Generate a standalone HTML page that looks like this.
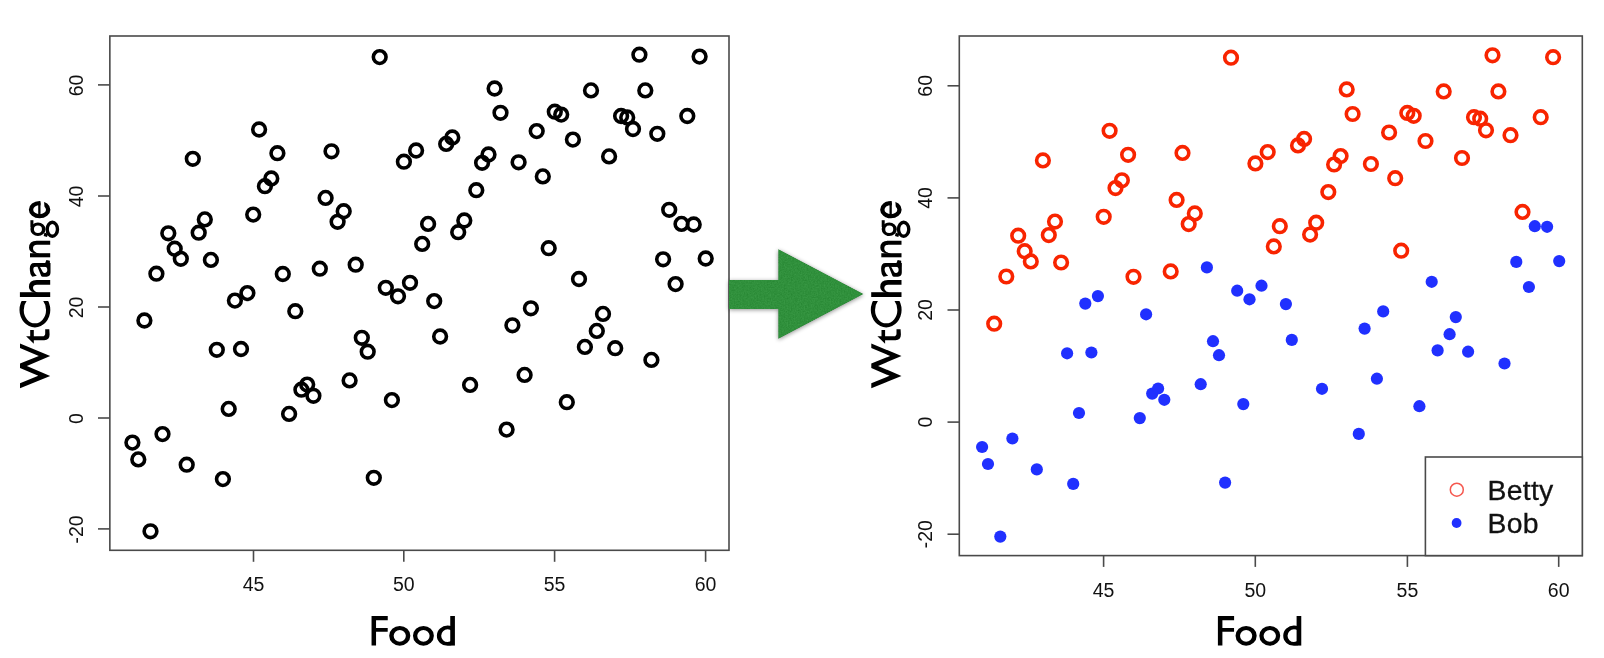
<!DOCTYPE html>
<html><head><meta charset="utf-8"><style>
html,body{margin:0;padding:0;background:#fff;width:1604px;height:658px;overflow:hidden}
svg{display:block;will-change:transform}
.tk{font-family:"Liberation Sans",sans-serif;font-size:19.5px;fill:#111}
.lg{font-family:"Liberation Sans",sans-serif;font-size:28.4px;letter-spacing:0.3px;fill:#111;stroke:#111;stroke-width:0.3px}
.ti{font-family:"Liberation Sans",sans-serif;font-size:41px;fill:#000;stroke:#000;stroke-width:1.1px}
</style></head><body>
<svg width="1604" height="658" viewBox="0 0 1604 658"><defs><filter id="sh" x="-20%" y="-30%" width="140%" height="160%" color-interpolation-filters="sRGB"><feGaussianBlur in="SourceAlpha" stdDeviation="2.2" result="b"/><feOffset in="b" dx="0" dy="1" result="o"/><feComponentTransfer in="o" result="s"><feFuncA type="linear" slope="0.42"/></feComponentTransfer><feTurbulence type="fractalNoise" baseFrequency="0.7" numOctaves="2" seed="4" result="n"/><feColorMatrix in="n" type="matrix" values="1 0 0 0 0  1 0 0 0 0  1 0 0 0 0  0 0 0 0 1" result="ng"/><feComposite in="SourceGraphic" in2="ng" operator="arithmetic" k1="0" k2="1" k3="0.10" k4="-0.05" result="t"/><feComposite in="t" in2="SourceAlpha" operator="in" result="tc"/><feMerge><feMergeNode in="s"/><feMergeNode in="tc"/></feMerge></filter></defs><rect x="109.85" y="36.0" width="619.15" height="514.3" fill="none" stroke="#4a4a4a" stroke-width="1.6"/><line x1="253.5" y1="550.3" x2="253.5" y2="561.8" stroke="#4a4a4a" stroke-width="1.6"/><text x="253.5" y="591" class="tk" text-anchor="middle">45</text><line x1="403.8" y1="550.3" x2="403.8" y2="561.8" stroke="#4a4a4a" stroke-width="1.6"/><text x="403.8" y="591" class="tk" text-anchor="middle">50</text><line x1="554.6" y1="550.3" x2="554.6" y2="561.8" stroke="#4a4a4a" stroke-width="1.6"/><text x="554.6" y="591" class="tk" text-anchor="middle">55</text><line x1="705.6" y1="550.3" x2="705.6" y2="561.8" stroke="#4a4a4a" stroke-width="1.6"/><text x="705.6" y="591" class="tk" text-anchor="middle">60</text><line x1="98.0" y1="84.9" x2="109.85" y2="84.9" stroke="#4a4a4a" stroke-width="1.6"/><text transform="translate(82.6 85.4) rotate(-90)" class="tk" text-anchor="middle">60</text><line x1="98.0" y1="196.0" x2="109.85" y2="196.0" stroke="#4a4a4a" stroke-width="1.6"/><text transform="translate(82.6 196.5) rotate(-90)" class="tk" text-anchor="middle">40</text><line x1="98.0" y1="307.0" x2="109.85" y2="307.0" stroke="#4a4a4a" stroke-width="1.6"/><text transform="translate(82.6 307.5) rotate(-90)" class="tk" text-anchor="middle">20</text><line x1="98.0" y1="418.0" x2="109.85" y2="418.0" stroke="#4a4a4a" stroke-width="1.6"/><text transform="translate(82.6 418.5) rotate(-90)" class="tk" text-anchor="middle">0</text><line x1="98.0" y1="528.9" x2="109.85" y2="528.9" stroke="#4a4a4a" stroke-width="1.6"/><text transform="translate(82.6 529.4) rotate(-90)" class="tk" text-anchor="middle">-20</text><rect x="959.3" y="36.0" width="623.0" height="519.6" fill="none" stroke="#4a4a4a" stroke-width="1.6"/><line x1="1103.6" y1="555.6" x2="1103.6" y2="566.9" stroke="#4a4a4a" stroke-width="1.6"/><text x="1103.6" y="596.5" class="tk" text-anchor="middle">45</text><line x1="1255.3" y1="555.6" x2="1255.3" y2="566.9" stroke="#4a4a4a" stroke-width="1.6"/><text x="1255.3" y="596.5" class="tk" text-anchor="middle">50</text><line x1="1407.4" y1="555.6" x2="1407.4" y2="566.9" stroke="#4a4a4a" stroke-width="1.6"/><text x="1407.4" y="596.5" class="tk" text-anchor="middle">55</text><line x1="1558.7" y1="555.6" x2="1558.7" y2="566.9" stroke="#4a4a4a" stroke-width="1.6"/><text x="1558.7" y="596.5" class="tk" text-anchor="middle">60</text><line x1="947.5" y1="85.8" x2="959.3" y2="85.8" stroke="#4a4a4a" stroke-width="1.6"/><text transform="translate(932.0 85.8) rotate(-90)" class="tk" text-anchor="middle">60</text><line x1="947.5" y1="197.9" x2="959.3" y2="197.9" stroke="#4a4a4a" stroke-width="1.6"/><text transform="translate(932.0 197.9) rotate(-90)" class="tk" text-anchor="middle">40</text><line x1="947.5" y1="310.0" x2="959.3" y2="310.0" stroke="#4a4a4a" stroke-width="1.6"/><text transform="translate(932.0 310.0) rotate(-90)" class="tk" text-anchor="middle">20</text><line x1="947.5" y1="422.1" x2="959.3" y2="422.1" stroke="#4a4a4a" stroke-width="1.6"/><text transform="translate(932.0 422.1) rotate(-90)" class="tk" text-anchor="middle">0</text><line x1="947.5" y1="534.2" x2="959.3" y2="534.2" stroke="#4a4a4a" stroke-width="1.6"/><text transform="translate(932.0 534.2) rotate(-90)" class="tk" text-anchor="middle">-20</text><circle cx="253.2" cy="214.6" r="6.35" fill="none" stroke="#000" stroke-width="3.6"/><circle cx="204.8" cy="219.4" r="6.35" fill="none" stroke="#000" stroke-width="3.6"/><circle cx="168.3" cy="233.3" r="6.35" fill="none" stroke="#000" stroke-width="3.6"/><circle cx="198.7" cy="232.7" r="6.35" fill="none" stroke="#000" stroke-width="3.6"/><circle cx="174.7" cy="248.7" r="6.35" fill="none" stroke="#000" stroke-width="3.6"/><circle cx="180.8" cy="258.8" r="6.35" fill="none" stroke="#000" stroke-width="3.6"/><circle cx="210.9" cy="259.9" r="6.35" fill="none" stroke="#000" stroke-width="3.6"/><circle cx="156.4" cy="273.7" r="6.35" fill="none" stroke="#000" stroke-width="3.6"/><circle cx="282.8" cy="274.0" r="6.35" fill="none" stroke="#000" stroke-width="3.6"/><circle cx="247.4" cy="293.1" r="6.35" fill="none" stroke="#000" stroke-width="3.6"/><circle cx="234.9" cy="300.6" r="6.35" fill="none" stroke="#000" stroke-width="3.6"/><circle cx="295.3" cy="311.2" r="6.35" fill="none" stroke="#000" stroke-width="3.6"/><circle cx="144.4" cy="320.5" r="6.35" fill="none" stroke="#000" stroke-width="3.6"/><circle cx="216.8" cy="349.8" r="6.35" fill="none" stroke="#000" stroke-width="3.6"/><circle cx="241.0" cy="349.0" r="6.35" fill="none" stroke="#000" stroke-width="3.6"/><circle cx="192.8" cy="158.8" r="6.35" fill="none" stroke="#000" stroke-width="3.6"/><circle cx="259.1" cy="129.5" r="6.35" fill="none" stroke="#000" stroke-width="3.6"/><circle cx="277.4" cy="153.2" r="6.35" fill="none" stroke="#000" stroke-width="3.6"/><circle cx="271.3" cy="178.5" r="6.35" fill="none" stroke="#000" stroke-width="3.6"/><circle cx="264.9" cy="186.2" r="6.35" fill="none" stroke="#000" stroke-width="3.6"/><circle cx="228.7" cy="408.9" r="6.35" fill="none" stroke="#000" stroke-width="3.6"/><circle cx="289.1" cy="413.9" r="6.35" fill="none" stroke="#000" stroke-width="3.6"/><circle cx="301.4" cy="389.7" r="6.35" fill="none" stroke="#000" stroke-width="3.6"/><circle cx="307.2" cy="384.6" r="6.35" fill="none" stroke="#000" stroke-width="3.6"/><circle cx="313.4" cy="395.8" r="6.35" fill="none" stroke="#000" stroke-width="3.6"/><circle cx="162.5" cy="434.1" r="6.35" fill="none" stroke="#000" stroke-width="3.6"/><circle cx="132.4" cy="442.6" r="6.35" fill="none" stroke="#000" stroke-width="3.6"/><circle cx="138.3" cy="459.4" r="6.35" fill="none" stroke="#000" stroke-width="3.6"/><circle cx="186.7" cy="464.7" r="6.35" fill="none" stroke="#000" stroke-width="3.6"/><circle cx="222.9" cy="479.1" r="6.35" fill="none" stroke="#000" stroke-width="3.6"/><circle cx="150.5" cy="531.3" r="6.35" fill="none" stroke="#000" stroke-width="3.6"/><circle cx="379.7" cy="57.1" r="6.35" fill="none" stroke="#000" stroke-width="3.6"/><circle cx="494.6" cy="88.5" r="6.35" fill="none" stroke="#000" stroke-width="3.6"/><circle cx="500.5" cy="112.8" r="6.35" fill="none" stroke="#000" stroke-width="3.6"/><circle cx="331.5" cy="151.3" r="6.35" fill="none" stroke="#000" stroke-width="3.6"/><circle cx="416.1" cy="150.5" r="6.35" fill="none" stroke="#000" stroke-width="3.6"/><circle cx="403.9" cy="161.7" r="6.35" fill="none" stroke="#000" stroke-width="3.6"/><circle cx="452.3" cy="137.5" r="6.35" fill="none" stroke="#000" stroke-width="3.6"/><circle cx="446.2" cy="143.9" r="6.35" fill="none" stroke="#000" stroke-width="3.6"/><circle cx="488.5" cy="154.5" r="6.35" fill="none" stroke="#000" stroke-width="3.6"/><circle cx="482.1" cy="162.8" r="6.35" fill="none" stroke="#000" stroke-width="3.6"/><circle cx="518.6" cy="162.3" r="6.35" fill="none" stroke="#000" stroke-width="3.6"/><circle cx="476.3" cy="190.2" r="6.35" fill="none" stroke="#000" stroke-width="3.6"/><circle cx="325.6" cy="197.9" r="6.35" fill="none" stroke="#000" stroke-width="3.6"/><circle cx="343.7" cy="211.2" r="6.35" fill="none" stroke="#000" stroke-width="3.6"/><circle cx="337.6" cy="221.8" r="6.35" fill="none" stroke="#000" stroke-width="3.6"/><circle cx="428.1" cy="223.9" r="6.35" fill="none" stroke="#000" stroke-width="3.6"/><circle cx="464.3" cy="220.5" r="6.35" fill="none" stroke="#000" stroke-width="3.6"/><circle cx="458.2" cy="232.2" r="6.35" fill="none" stroke="#000" stroke-width="3.6"/><circle cx="422.2" cy="243.9" r="6.35" fill="none" stroke="#000" stroke-width="3.6"/><circle cx="319.8" cy="268.7" r="6.35" fill="none" stroke="#000" stroke-width="3.6"/><circle cx="355.7" cy="264.7" r="6.35" fill="none" stroke="#000" stroke-width="3.6"/><circle cx="410.0" cy="282.8" r="6.35" fill="none" stroke="#000" stroke-width="3.6"/><circle cx="385.8" cy="287.8" r="6.35" fill="none" stroke="#000" stroke-width="3.6"/><circle cx="398.0" cy="296.3" r="6.35" fill="none" stroke="#000" stroke-width="3.6"/><circle cx="434.2" cy="301.1" r="6.35" fill="none" stroke="#000" stroke-width="3.6"/><circle cx="440.1" cy="336.5" r="6.35" fill="none" stroke="#000" stroke-width="3.6"/><circle cx="512.4" cy="325.3" r="6.35" fill="none" stroke="#000" stroke-width="3.6"/><circle cx="361.8" cy="337.8" r="6.35" fill="none" stroke="#000" stroke-width="3.6"/><circle cx="367.7" cy="351.7" r="6.35" fill="none" stroke="#000" stroke-width="3.6"/><circle cx="349.6" cy="380.4" r="6.35" fill="none" stroke="#000" stroke-width="3.6"/><circle cx="391.9" cy="400.1" r="6.35" fill="none" stroke="#000" stroke-width="3.6"/><circle cx="470.1" cy="384.9" r="6.35" fill="none" stroke="#000" stroke-width="3.6"/><circle cx="506.6" cy="429.6" r="6.35" fill="none" stroke="#000" stroke-width="3.6"/><circle cx="373.8" cy="477.8" r="6.35" fill="none" stroke="#000" stroke-width="3.6"/><circle cx="639.4" cy="54.7" r="6.35" fill="none" stroke="#000" stroke-width="3.6"/><circle cx="699.6" cy="56.6" r="6.35" fill="none" stroke="#000" stroke-width="3.6"/><circle cx="591.0" cy="90.4" r="6.35" fill="none" stroke="#000" stroke-width="3.6"/><circle cx="645.3" cy="90.4" r="6.35" fill="none" stroke="#000" stroke-width="3.6"/><circle cx="554.8" cy="111.7" r="6.35" fill="none" stroke="#000" stroke-width="3.6"/><circle cx="561.2" cy="114.6" r="6.35" fill="none" stroke="#000" stroke-width="3.6"/><circle cx="621.1" cy="116.0" r="6.35" fill="none" stroke="#000" stroke-width="3.6"/><circle cx="627.2" cy="117.5" r="6.35" fill="none" stroke="#000" stroke-width="3.6"/><circle cx="633.0" cy="129.0" r="6.35" fill="none" stroke="#000" stroke-width="3.6"/><circle cx="687.3" cy="116.0" r="6.35" fill="none" stroke="#000" stroke-width="3.6"/><circle cx="536.7" cy="131.1" r="6.35" fill="none" stroke="#000" stroke-width="3.6"/><circle cx="572.9" cy="139.6" r="6.35" fill="none" stroke="#000" stroke-width="3.6"/><circle cx="657.3" cy="133.8" r="6.35" fill="none" stroke="#000" stroke-width="3.6"/><circle cx="609.1" cy="156.4" r="6.35" fill="none" stroke="#000" stroke-width="3.6"/><circle cx="542.8" cy="176.4" r="6.35" fill="none" stroke="#000" stroke-width="3.6"/><circle cx="669.2" cy="209.8" r="6.35" fill="none" stroke="#000" stroke-width="3.6"/><circle cx="681.5" cy="223.9" r="6.35" fill="none" stroke="#000" stroke-width="3.6"/><circle cx="693.7" cy="224.5" r="6.35" fill="none" stroke="#000" stroke-width="3.6"/><circle cx="548.7" cy="248.2" r="6.35" fill="none" stroke="#000" stroke-width="3.6"/><circle cx="663.1" cy="259.3" r="6.35" fill="none" stroke="#000" stroke-width="3.6"/><circle cx="705.7" cy="258.5" r="6.35" fill="none" stroke="#000" stroke-width="3.6"/><circle cx="579.0" cy="279.0" r="6.35" fill="none" stroke="#000" stroke-width="3.6"/><circle cx="675.6" cy="284.1" r="6.35" fill="none" stroke="#000" stroke-width="3.6"/><circle cx="530.9" cy="308.3" r="6.35" fill="none" stroke="#000" stroke-width="3.6"/><circle cx="603.0" cy="313.9" r="6.35" fill="none" stroke="#000" stroke-width="3.6"/><circle cx="596.8" cy="330.9" r="6.35" fill="none" stroke="#000" stroke-width="3.6"/><circle cx="584.9" cy="346.9" r="6.35" fill="none" stroke="#000" stroke-width="3.6"/><circle cx="615.2" cy="348.2" r="6.35" fill="none" stroke="#000" stroke-width="3.6"/><circle cx="651.4" cy="359.9" r="6.35" fill="none" stroke="#000" stroke-width="3.6"/><circle cx="566.8" cy="402.2" r="6.35" fill="none" stroke="#000" stroke-width="3.6"/><circle cx="524.6" cy="374.9" r="6.35" fill="none" stroke="#000" stroke-width="3.6"/><circle cx="1103.7" cy="216.8" r="6.3" fill="none" stroke="#f82400" stroke-width="3.6"/><circle cx="1055.0" cy="221.6" r="6.3" fill="none" stroke="#f82400" stroke-width="3.6"/><circle cx="1018.2" cy="235.7" r="6.3" fill="none" stroke="#f82400" stroke-width="3.6"/><circle cx="1048.8" cy="235.1" r="6.3" fill="none" stroke="#f82400" stroke-width="3.6"/><circle cx="1024.7" cy="251.2" r="6.3" fill="none" stroke="#f82400" stroke-width="3.6"/><circle cx="1030.8" cy="261.4" r="6.3" fill="none" stroke="#f82400" stroke-width="3.6"/><circle cx="1061.1" cy="262.5" r="6.3" fill="none" stroke="#f82400" stroke-width="3.6"/><circle cx="1006.3" cy="276.5" r="6.3" fill="none" stroke="#f82400" stroke-width="3.6"/><circle cx="1133.5" cy="276.8" r="6.3" fill="none" stroke="#f82400" stroke-width="3.6"/><circle cx="1097.9" cy="296.1" r="6.1" fill="#2030ff"/><circle cx="1085.3" cy="303.6" r="6.1" fill="#2030ff"/><circle cx="1146.1" cy="314.3" r="6.1" fill="#2030ff"/><circle cx="994.2" cy="323.7" r="6.3" fill="none" stroke="#f82400" stroke-width="3.6"/><circle cx="1067.1" cy="353.3" r="6.1" fill="#2030ff"/><circle cx="1091.4" cy="352.5" r="6.1" fill="#2030ff"/><circle cx="1042.9" cy="160.4" r="6.3" fill="none" stroke="#f82400" stroke-width="3.6"/><circle cx="1109.6" cy="130.8" r="6.3" fill="none" stroke="#f82400" stroke-width="3.6"/><circle cx="1128.1" cy="154.8" r="6.3" fill="none" stroke="#f82400" stroke-width="3.6"/><circle cx="1121.9" cy="180.3" r="6.3" fill="none" stroke="#f82400" stroke-width="3.6"/><circle cx="1115.5" cy="188.1" r="6.3" fill="none" stroke="#f82400" stroke-width="3.6"/><circle cx="1079.0" cy="413.0" r="6.1" fill="#2030ff"/><circle cx="1139.8" cy="418.1" r="6.1" fill="#2030ff"/><circle cx="1152.2" cy="393.6" r="6.1" fill="#2030ff"/><circle cx="1158.1" cy="388.5" r="6.1" fill="#2030ff"/><circle cx="1164.3" cy="399.8" r="6.1" fill="#2030ff"/><circle cx="1012.4" cy="438.5" r="6.1" fill="#2030ff"/><circle cx="982.1" cy="447.0" r="6.1" fill="#2030ff"/><circle cx="988.0" cy="464.0" r="6.1" fill="#2030ff"/><circle cx="1036.8" cy="469.4" r="6.1" fill="#2030ff"/><circle cx="1073.2" cy="483.9" r="6.1" fill="#2030ff"/><circle cx="1000.3" cy="536.6" r="6.1" fill="#2030ff"/><circle cx="1231.0" cy="57.7" r="6.3" fill="none" stroke="#f82400" stroke-width="3.6"/><circle cx="1346.7" cy="89.4" r="6.3" fill="none" stroke="#f82400" stroke-width="3.6"/><circle cx="1352.6" cy="114.0" r="6.3" fill="none" stroke="#f82400" stroke-width="3.6"/><circle cx="1182.5" cy="152.9" r="6.3" fill="none" stroke="#f82400" stroke-width="3.6"/><circle cx="1267.7" cy="152.1" r="6.3" fill="none" stroke="#f82400" stroke-width="3.6"/><circle cx="1255.4" cy="163.4" r="6.3" fill="none" stroke="#f82400" stroke-width="3.6"/><circle cx="1304.1" cy="138.9" r="6.3" fill="none" stroke="#f82400" stroke-width="3.6"/><circle cx="1298.0" cy="145.4" r="6.3" fill="none" stroke="#f82400" stroke-width="3.6"/><circle cx="1340.6" cy="156.1" r="6.3" fill="none" stroke="#f82400" stroke-width="3.6"/><circle cx="1334.1" cy="164.5" r="6.3" fill="none" stroke="#f82400" stroke-width="3.6"/><circle cx="1370.9" cy="164.0" r="6.3" fill="none" stroke="#f82400" stroke-width="3.6"/><circle cx="1328.3" cy="192.1" r="6.3" fill="none" stroke="#f82400" stroke-width="3.6"/><circle cx="1176.6" cy="199.9" r="6.3" fill="none" stroke="#f82400" stroke-width="3.6"/><circle cx="1194.8" cy="213.4" r="6.3" fill="none" stroke="#f82400" stroke-width="3.6"/><circle cx="1188.7" cy="224.1" r="6.3" fill="none" stroke="#f82400" stroke-width="3.6"/><circle cx="1279.8" cy="226.2" r="6.3" fill="none" stroke="#f82400" stroke-width="3.6"/><circle cx="1316.2" cy="222.7" r="6.3" fill="none" stroke="#f82400" stroke-width="3.6"/><circle cx="1310.1" cy="234.6" r="6.3" fill="none" stroke="#f82400" stroke-width="3.6"/><circle cx="1273.8" cy="246.4" r="6.3" fill="none" stroke="#f82400" stroke-width="3.6"/><circle cx="1170.7" cy="271.4" r="6.3" fill="none" stroke="#f82400" stroke-width="3.6"/><circle cx="1206.9" cy="267.4" r="6.1" fill="#2030ff"/><circle cx="1261.5" cy="285.7" r="6.1" fill="#2030ff"/><circle cx="1237.2" cy="290.7" r="6.1" fill="#2030ff"/><circle cx="1249.5" cy="299.3" r="6.1" fill="#2030ff"/><circle cx="1285.9" cy="304.1" r="6.1" fill="#2030ff"/><circle cx="1291.8" cy="339.9" r="6.1" fill="#2030ff"/><circle cx="1364.6" cy="328.6" r="6.1" fill="#2030ff"/><circle cx="1213.0" cy="341.2" r="6.1" fill="#2030ff"/><circle cx="1219.0" cy="355.2" r="6.1" fill="#2030ff"/><circle cx="1200.7" cy="384.2" r="6.1" fill="#2030ff"/><circle cx="1243.3" cy="404.1" r="6.1" fill="#2030ff"/><circle cx="1322.0" cy="388.8" r="6.1" fill="#2030ff"/><circle cx="1358.8" cy="433.9" r="6.1" fill="#2030ff"/><circle cx="1225.1" cy="482.6" r="6.1" fill="#2030ff"/><circle cx="1492.5" cy="55.3" r="6.3" fill="none" stroke="#f82400" stroke-width="3.6"/><circle cx="1553.1" cy="57.2" r="6.3" fill="none" stroke="#f82400" stroke-width="3.6"/><circle cx="1443.7" cy="91.4" r="6.3" fill="none" stroke="#f82400" stroke-width="3.6"/><circle cx="1498.4" cy="91.4" r="6.3" fill="none" stroke="#f82400" stroke-width="3.6"/><circle cx="1407.3" cy="112.9" r="6.3" fill="none" stroke="#f82400" stroke-width="3.6"/><circle cx="1413.7" cy="115.8" r="6.3" fill="none" stroke="#f82400" stroke-width="3.6"/><circle cx="1474.0" cy="117.2" r="6.3" fill="none" stroke="#f82400" stroke-width="3.6"/><circle cx="1480.2" cy="118.7" r="6.3" fill="none" stroke="#f82400" stroke-width="3.6"/><circle cx="1486.0" cy="130.3" r="6.3" fill="none" stroke="#f82400" stroke-width="3.6"/><circle cx="1540.7" cy="117.2" r="6.3" fill="none" stroke="#f82400" stroke-width="3.6"/><circle cx="1389.1" cy="132.5" r="6.3" fill="none" stroke="#f82400" stroke-width="3.6"/><circle cx="1425.5" cy="141.0" r="6.3" fill="none" stroke="#f82400" stroke-width="3.6"/><circle cx="1510.5" cy="135.2" r="6.3" fill="none" stroke="#f82400" stroke-width="3.6"/><circle cx="1462.0" cy="158.0" r="6.3" fill="none" stroke="#f82400" stroke-width="3.6"/><circle cx="1395.2" cy="178.2" r="6.3" fill="none" stroke="#f82400" stroke-width="3.6"/><circle cx="1522.5" cy="211.9" r="6.3" fill="none" stroke="#f82400" stroke-width="3.6"/><circle cx="1534.8" cy="226.2" r="6.1" fill="#2030ff"/><circle cx="1547.1" cy="226.8" r="6.1" fill="#2030ff"/><circle cx="1401.2" cy="250.7" r="6.3" fill="none" stroke="#f82400" stroke-width="3.6"/><circle cx="1516.3" cy="261.9" r="6.1" fill="#2030ff"/><circle cx="1559.2" cy="261.1" r="6.1" fill="#2030ff"/><circle cx="1431.7" cy="281.8" r="6.1" fill="#2030ff"/><circle cx="1528.9" cy="287.0" r="6.1" fill="#2030ff"/><circle cx="1383.2" cy="311.4" r="6.1" fill="#2030ff"/><circle cx="1455.8" cy="317.1" r="6.1" fill="#2030ff"/><circle cx="1449.6" cy="334.2" r="6.1" fill="#2030ff"/><circle cx="1437.6" cy="350.4" r="6.1" fill="#2030ff"/><circle cx="1468.1" cy="351.7" r="6.1" fill="#2030ff"/><circle cx="1504.5" cy="363.5" r="6.1" fill="#2030ff"/><circle cx="1419.4" cy="406.2" r="6.1" fill="#2030ff"/><circle cx="1376.9" cy="378.7" r="6.1" fill="#2030ff"/><rect x="1425.4" y="457" width="156.89999999999986" height="98.60000000000002" fill="#fff" stroke="#4a4a4a" stroke-width="1.6"/><circle cx="1456.8" cy="489.7" r="6.5" fill="none" stroke="#f5584f" stroke-width="1.5"/><circle cx="1456.6" cy="523" r="4.9" fill="#2030ff"/><text x="1487.4" y="500" class="lg">Betty</text><text x="1487.4" y="533.4" class="lg">Bob</text><path d="M729 279.9 L778.2 279.9 L778.2 249.0 L863.7 294 L778.2 339.1 L778.2 309.0 L729 309.0 Z" fill="#30903c" filter="url(#sh)"/><defs><clipPath id="cCL"><rect x="60" y="-40" width="27.7" height="50"/></clipPath><clipPath id="cEL"><path d="M165,-30H195V-9.7H179V-5.8L182,-5.8L195,-6.6V5H165Z"/></clipPath><clipPath id="cCR"><rect x="60" y="-40" width="27.7" height="50"/></clipPath><clipPath id="cER"><path d="M165,-30H195V-9.7H179V-5.8L182,-5.8L195,-6.6V5H165Z"/></clipPath><clipPath id="cDL"><rect x="58.44999999999999" y="-40" width="21.5" height="50"/></clipPath><clipPath id="cDR"><rect x="58.44999999999999" y="-40" width="21.5" height="50"/></clipPath></defs><g fill="#000" transform="translate(50.2 388.6) rotate(-90)"><path d="M0.40,-30.20L5.40,-30.20L12.75,-11.90L20.50,-30.20L25.00,-30.20L32.60,-11.40L40.50,-30.20L45.05,-30.20L32.70,0.00L22.70,-23.40L12.50,0.00Z"/><path d="M52.4,-24.1L44.8,-16.4L48.3,-16.4L48.3,-6.0Q48.3,-0.6 54.0,-0.6L59.4,-0.9L59.4,-5.0L55.2,-5.0Q52.4,-5.0 52.4,-7.8L52.4,-16.4L58.5,-16.4L58.5,-20.0L52.4,-20.0Z"/><path clip-path="url(#cCL)" fill-rule="evenodd" d="M61.20,-15.30a17.47,15.40 0 1,0 34.94,0a17.47,15.40 0 1,0 -34.94,0ZM65.27,-15.30a13.40,11.15 0 1,0 26.80,0a13.40,11.15 0 1,0 -26.80,0Z"/><path d="M91.60,-30.30H96.40V0.00H91.60Z"/><path d="M95,-12.5Q96.5,-21.3 101.6,-21.3Q108.5,-21.3 108.5,-13.5L108.5,0L103.9,0L103.9,-13.2Q103.9,-17.2 100.6,-17.2Q97.2,-17.2 95,-10.5Z"/><path d="M125.6,-0.3L125.6,-16.0Q125.6,-20.4 120.0,-20.4Q114.0,-20.4 111.95,-17.9L112.9,-13.4Q115.5,-16.9 119.5,-16.9Q121.8,-16.9 121.8,-14.5L121.8,-0.3Z"/><path d="M125.60,-0.30L125.60,-5.00L128.70,-3.80L127.80,-0.30Z"/><path fill-rule="evenodd" d="M122,-12.8L112.6,-9.0Q111.9,-8.6 111.9,-7.5L111.9,-3.5Q111.9,0.3 116,0.3L125.6,0.3L125.6,-12.8ZM121.8,-10.3L116.6,-7.4Q115.7,-6.8 115.7,-5.5Q115.7,-2.9 118.5,-2.9Q121.8,-2.9 121.8,-5.5Z"/><path d="M131.30,-20.20H135.40V0.00H131.30Z"/><path d="M134.5,-13.0Q135.8,-21.2 140.8,-21.2Q147.9,-21.2 147.9,-13.5L147.9,0L143.8,0L143.8,-13.2Q143.8,-17.2 140.2,-17.2Q136.8,-17.2 134.5,-10.5Z"/><path fill-rule="evenodd" d="M152.50,-12.25a6.85,7.55 0 1,0 13.70,0a6.85,7.55 0 1,0 -13.70,0ZM155.65,-12.25a3.70,4.00 0 1,0 7.40,0a3.70,4.00 0 1,0 -7.40,0Z"/><path d="M161.50,-19.80H168.40V-16.80H161.50Z"/><path d="M152.60,-6.50L156.20,-5.80L154.50,-2.20L151.50,-3.20Z"/><path fill-rule="evenodd" d="M150.70,2.15a8.65,6.85 0 1,0 17.30,0a8.65,6.85 0 1,0 -17.30,0ZM154.10,2.15a5.25,3.45 0 1,0 10.50,0a5.25,3.45 0 1,0 -10.50,0Z"/><path clip-path="url(#cEL)" fill-rule="evenodd" d="M170.30,-10.60a8.65,10.75 0 1,0 17.30,0a8.65,10.75 0 1,0 -17.30,0ZM174.45,-10.60a4.50,6.40 0 1,0 9.00,0a4.50,6.40 0 1,0 -9.00,0Z"/><path d="M172.00,-12.00H186.00V-9.70H172.00Z"/></g><g fill="#000" transform="translate(901.5 388.6) rotate(-90)"><path d="M0.40,-30.20L5.40,-30.20L12.75,-11.90L20.50,-30.20L25.00,-30.20L32.60,-11.40L40.50,-30.20L45.05,-30.20L32.70,0.00L22.70,-23.40L12.50,0.00Z"/><path d="M52.4,-24.1L44.8,-16.4L48.3,-16.4L48.3,-6.0Q48.3,-0.6 54.0,-0.6L59.4,-0.9L59.4,-5.0L55.2,-5.0Q52.4,-5.0 52.4,-7.8L52.4,-16.4L58.5,-16.4L58.5,-20.0L52.4,-20.0Z"/><path clip-path="url(#cCR)" fill-rule="evenodd" d="M61.20,-15.30a17.47,15.40 0 1,0 34.94,0a17.47,15.40 0 1,0 -34.94,0ZM65.27,-15.30a13.40,11.15 0 1,0 26.80,0a13.40,11.15 0 1,0 -26.80,0Z"/><path d="M91.60,-30.30H96.40V0.00H91.60Z"/><path d="M95,-12.5Q96.5,-21.3 101.6,-21.3Q108.5,-21.3 108.5,-13.5L108.5,0L103.9,0L103.9,-13.2Q103.9,-17.2 100.6,-17.2Q97.2,-17.2 95,-10.5Z"/><path d="M125.6,-0.3L125.6,-16.0Q125.6,-20.4 120.0,-20.4Q114.0,-20.4 111.95,-17.9L112.9,-13.4Q115.5,-16.9 119.5,-16.9Q121.8,-16.9 121.8,-14.5L121.8,-0.3Z"/><path d="M125.60,-0.30L125.60,-5.00L128.70,-3.80L127.80,-0.30Z"/><path fill-rule="evenodd" d="M122,-12.8L112.6,-9.0Q111.9,-8.6 111.9,-7.5L111.9,-3.5Q111.9,0.3 116,0.3L125.6,0.3L125.6,-12.8ZM121.8,-10.3L116.6,-7.4Q115.7,-6.8 115.7,-5.5Q115.7,-2.9 118.5,-2.9Q121.8,-2.9 121.8,-5.5Z"/><path d="M131.30,-20.20H135.40V0.00H131.30Z"/><path d="M134.5,-13.0Q135.8,-21.2 140.8,-21.2Q147.9,-21.2 147.9,-13.5L147.9,0L143.8,0L143.8,-13.2Q143.8,-17.2 140.2,-17.2Q136.8,-17.2 134.5,-10.5Z"/><path fill-rule="evenodd" d="M152.50,-12.25a6.85,7.55 0 1,0 13.70,0a6.85,7.55 0 1,0 -13.70,0ZM155.65,-12.25a3.70,4.00 0 1,0 7.40,0a3.70,4.00 0 1,0 -7.40,0Z"/><path d="M161.50,-19.80H168.40V-16.80H161.50Z"/><path d="M152.60,-6.50L156.20,-5.80L154.50,-2.20L151.50,-3.20Z"/><path fill-rule="evenodd" d="M150.70,2.15a8.65,6.85 0 1,0 17.30,0a8.65,6.85 0 1,0 -17.30,0ZM154.10,2.15a5.25,3.45 0 1,0 10.50,0a5.25,3.45 0 1,0 -10.50,0Z"/><path clip-path="url(#cER)" fill-rule="evenodd" d="M170.30,-10.60a8.65,10.75 0 1,0 17.30,0a8.65,10.75 0 1,0 -17.30,0ZM174.45,-10.60a4.50,6.40 0 1,0 9.00,0a4.50,6.40 0 1,0 -9.00,0Z"/><path d="M172.00,-12.00H186.00V-9.70H172.00Z"/></g><g fill="#000" transform="translate(371.55 645.57)"><path d="M0.00,-29.57H4.50V0.00H0.00ZM0.00,-29.57H16.20V-25.37H0.00ZM0.00,-17.57H16.15V-13.77H0.00Z"/><path fill-rule="evenodd" d="M17.65,-9.72a10.57,9.90 0 1,0 21.14,0a10.57,9.90 0 1,0 -21.14,0ZM22.12,-9.72a6.10,5.85 0 1,0 12.20,0a6.10,5.85 0 1,0 -12.20,0Z"/><path fill-rule="evenodd" d="M41.43,-9.72a10.45,9.90 0 1,0 20.90,0a10.45,9.90 0 1,0 -20.90,0ZM45.70,-9.72a6.18,5.85 0 1,0 12.36,0a6.18,5.85 0 1,0 -12.36,0Z"/><path clip-path="url(#cDL)" fill-rule="evenodd" d="M65.32,-9.87a10.73,10.15 0 1,0 21.46,0a10.73,10.15 0 1,0 -21.46,0ZM69.65,-9.87a6.40,6.35 0 1,0 12.80,0a6.40,6.35 0 1,0 -12.80,0Z"/><path d="M78.69,-29.57H83.37V0.00H78.69Z"/></g><g fill="#000" transform="translate(1217.9 645.57)"><path d="M0.00,-29.57H4.50V0.00H0.00ZM0.00,-29.57H16.20V-25.37H0.00ZM0.00,-17.57H16.15V-13.77H0.00Z"/><path fill-rule="evenodd" d="M17.65,-9.72a10.57,9.90 0 1,0 21.14,0a10.57,9.90 0 1,0 -21.14,0ZM22.12,-9.72a6.10,5.85 0 1,0 12.20,0a6.10,5.85 0 1,0 -12.20,0Z"/><path fill-rule="evenodd" d="M41.43,-9.72a10.45,9.90 0 1,0 20.90,0a10.45,9.90 0 1,0 -20.90,0ZM45.70,-9.72a6.18,5.85 0 1,0 12.36,0a6.18,5.85 0 1,0 -12.36,0Z"/><path clip-path="url(#cDR)" fill-rule="evenodd" d="M65.32,-9.87a10.73,10.15 0 1,0 21.46,0a10.73,10.15 0 1,0 -21.46,0ZM69.65,-9.87a6.40,6.35 0 1,0 12.80,0a6.40,6.35 0 1,0 -12.80,0Z"/><path d="M78.69,-29.57H83.37V0.00H78.69Z"/></g></svg>
</body></html>
